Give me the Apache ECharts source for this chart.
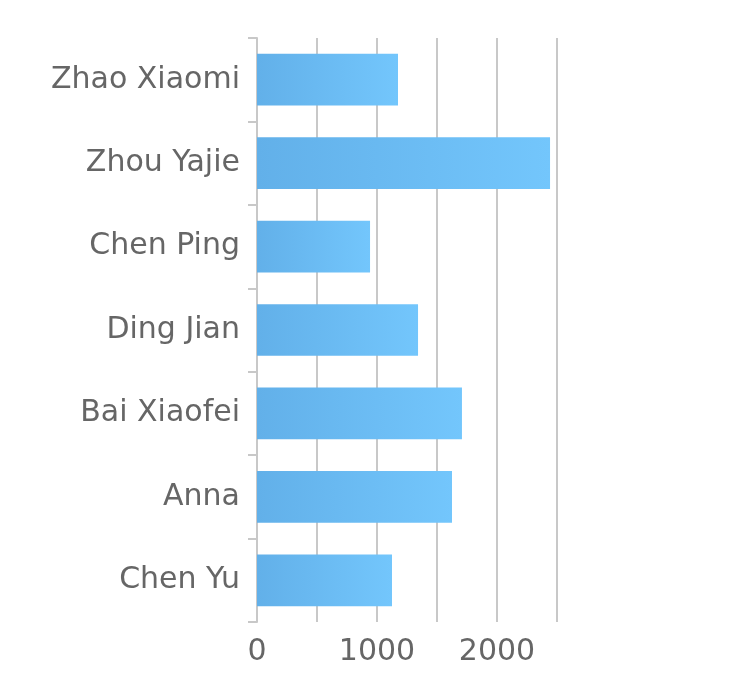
<!DOCTYPE html>
<html><head><meta charset="utf-8">
<script src="https://cdn.jsdelivr.net/npm/echarts@6/dist/echarts.min.js"></script>
<style>html,body{margin:0;padding:0;background:#fff}#c{width:730px;height:698px}</style>
</head><body><div id="c"></div>
<script>
const categories = ['Chen Yu', 'Anna', 'Bai Xiaofei', 'Ding Jian', 'Chen Ping', 'Zhou Yajie', 'Zhao Xiaomi'];
const values = [1125, 1625, 1708, 1342, 942, 2442, 1175];
const xTicks = [0, 1000, 2000];

const chart = echarts.init(document.getElementById('c'));
chart.setOption({
  animation: false,
  textStyle: { fontFamily: 'DejaVu Sans' },
  grid: { left: 257, right: 173, top: 38, bottom: 76 },
  xAxis: {
    type: 'value', min: 0, max: 2500, interval: 500,
    axisLine: { show: false },
    axisTick: { show: false },
    splitLine: { show: true, lineStyle: { color: '#c8c8c8', width: 2 } },
    axisLabel: {
      color: '#666', fontSize: 30, margin: 15, fontFamily: 'DejaVu Sans',
      formatter: v => xTicks.includes(v) ? String(v) : ''
    }
  },
  yAxis: {
    type: 'category', data: categories,
    axisLine: { show: true, lineStyle: { color: '#c8c8c8', width: 2 } },
    axisTick: { show: true, length: 9, lineStyle: { color: '#c8c8c8', width: 2 } },
    axisLabel: { color: '#666', fontSize: 30, margin: 17, fontFamily: 'DejaVu Sans' }
  },
  series: [{
    type: 'bar', data: values, barWidth: '62%',
    itemStyle: {
      color: new echarts.graphic.LinearGradient(0, 0, 1, 0, [
        { offset: 0, color: '#62b0e9' },
        { offset: 1, color: '#73c6fc' }
      ])
    }
  }]
});
</script></body></html>
